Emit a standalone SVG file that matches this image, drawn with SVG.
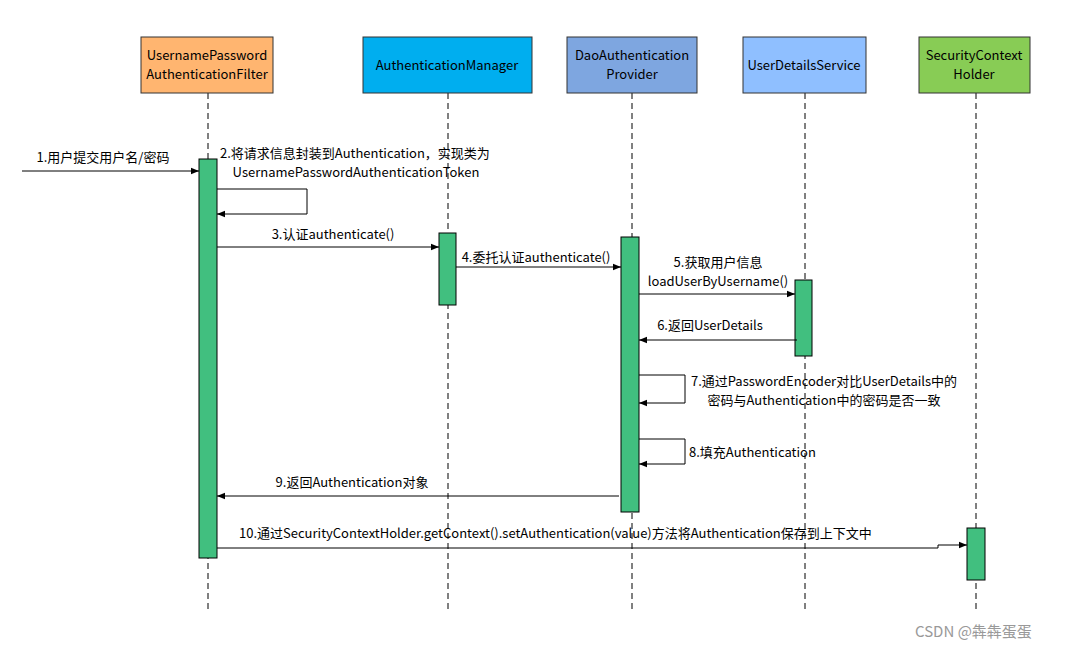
<svg xmlns="http://www.w3.org/2000/svg" width="1067" height="650" viewBox="0 0 1067 650">
<defs>
<marker id="ar" viewBox="0 0 10 10" refX="10" refY="5" markerWidth="8" markerHeight="8" orient="auto" markerUnits="userSpaceOnUse"><path d="M0,1 L10,5 L0,9 Z" fill="#000"/></marker>
<style>
text{font-family:"Noto Sans CJK SC","Liberation Sans",sans-serif;font-size:13px;fill:#000}
.hd{stroke:#333;stroke-width:1}
.ll{stroke:#000;stroke-dasharray:6,4;fill:none}
.act{fill:#41BF7F;stroke:#000;stroke-width:1}
.m{stroke:#000;fill:none;marker-end:url(#ar)}
.c{text-anchor:middle}
</style>
</defs>
<rect width="1067" height="650" fill="#fff"/>
<g id="lifelines">
<line class="ll" x1="208" y1="93" x2="208" y2="612"/>
<line class="ll" x1="448" y1="93" x2="448" y2="612"/>
<line class="ll" x1="632" y1="93" x2="632" y2="612"/>
<line class="ll" x1="805" y1="93" x2="805" y2="612"/>
<line class="ll" x1="976" y1="93" x2="976" y2="612"/>
</g>
<g id="filter"><rect class="hd" x="141" y="37" width="132" height="56" fill="#FFB570"/><text class="c" x="207" y="60">UsernamePassword</text><text class="c" x="207" y="79">AuthenticationFilter</text></g>
<g id="manager"><rect class="hd" x="363" y="37" width="169" height="56" fill="#00AEEF"/><text class="c" x="447" y="70">AuthenticationManager</text></g>
<g id="dao"><rect class="hd" x="567" y="37" width="130" height="56" fill="#7EA6E0"/><text class="c" x="632" y="60">DaoAuthentication</text><text class="c" x="632" y="79">Provider</text></g>
<g id="uds"><rect class="hd" x="743" y="37" width="123" height="56" fill="#8FBFFF"/><text class="c" x="804" y="70">UserDetailsService</text></g>
<g id="sch"><rect class="hd" x="919" y="37" width="111" height="56" fill="#88CC55"/><text class="c" x="974" y="60">SecurityContext</text><text class="c" x="974" y="79">Holder</text></g>
<g id="activations">
<rect class="act" x="199" y="159" width="18" height="399"/>
<rect class="act" x="439" y="233" width="17" height="72"/>
<rect class="act" x="621" y="237" width="18" height="275"/>
<rect class="act" x="795" y="280" width="17" height="76"/>
<rect class="act" x="967" y="528" width="18" height="52"/>
</g>
<g id="connectors">
<line class="m" x1="22" y1="171" x2="199" y2="171"/>
<polyline class="m" points="217,189 307,189 307,214 217,214"/>
<line class="m" x1="217" y1="247" x2="439" y2="247"/>
<line class="m" x1="456" y1="267" x2="621" y2="267"/>
<line class="m" x1="639" y1="294" x2="795" y2="294"/>
<line class="m" x1="797" y1="340" x2="639" y2="340"/>
<polyline class="m" points="639,375 685,375 685,403 639,403"/>
<polyline class="m" points="639,439 685,439 685,464 639,464"/>
<line class="m" x1="619" y1="496" x2="217" y2="496"/>
<polyline class="m" points="217,548 938,548 938,545 967,545"/>
</g>
<g id="labels">
<text class="c" x="103" y="162">1.用户提交用户名/密码</text>
<text x="220" y="158">2.将请求信息封装到Authentication，实现类为</text>
<text class="c" x="356" y="177">UsernamePasswordAuthenticationToken</text>
<text class="c" x="333" y="239">3.认证authenticate()</text>
<text class="c" x="536" y="262">4.委托认证authenticate()</text>
<text class="c" x="718" y="267">5.获取用户信息</text>
<text class="c" x="718" y="286">loadUserByUsername()</text>
<text class="c" x="710" y="330">6.返回UserDetails</text>
<text class="c" x="824" y="386">7.通过PasswordEncoder对比UserDetails中的</text>
<text class="c" x="824" y="405">密码与Authentication中的密码是否一致</text>
<text x="689" y="457">8.填充Authentication</text>
<text class="c" x="352" y="487">9.返回Authentication对象</text>
<text x="239" y="538">10.通过SecurityContextHolder.getContext().setAuthentication(value)方法将Authentication保存到上下文中</text>
<text x="915" y="637" style="font-size:15px;fill:#999">CSDN @犇犇蛋蛋</text>
</g>
</svg>
